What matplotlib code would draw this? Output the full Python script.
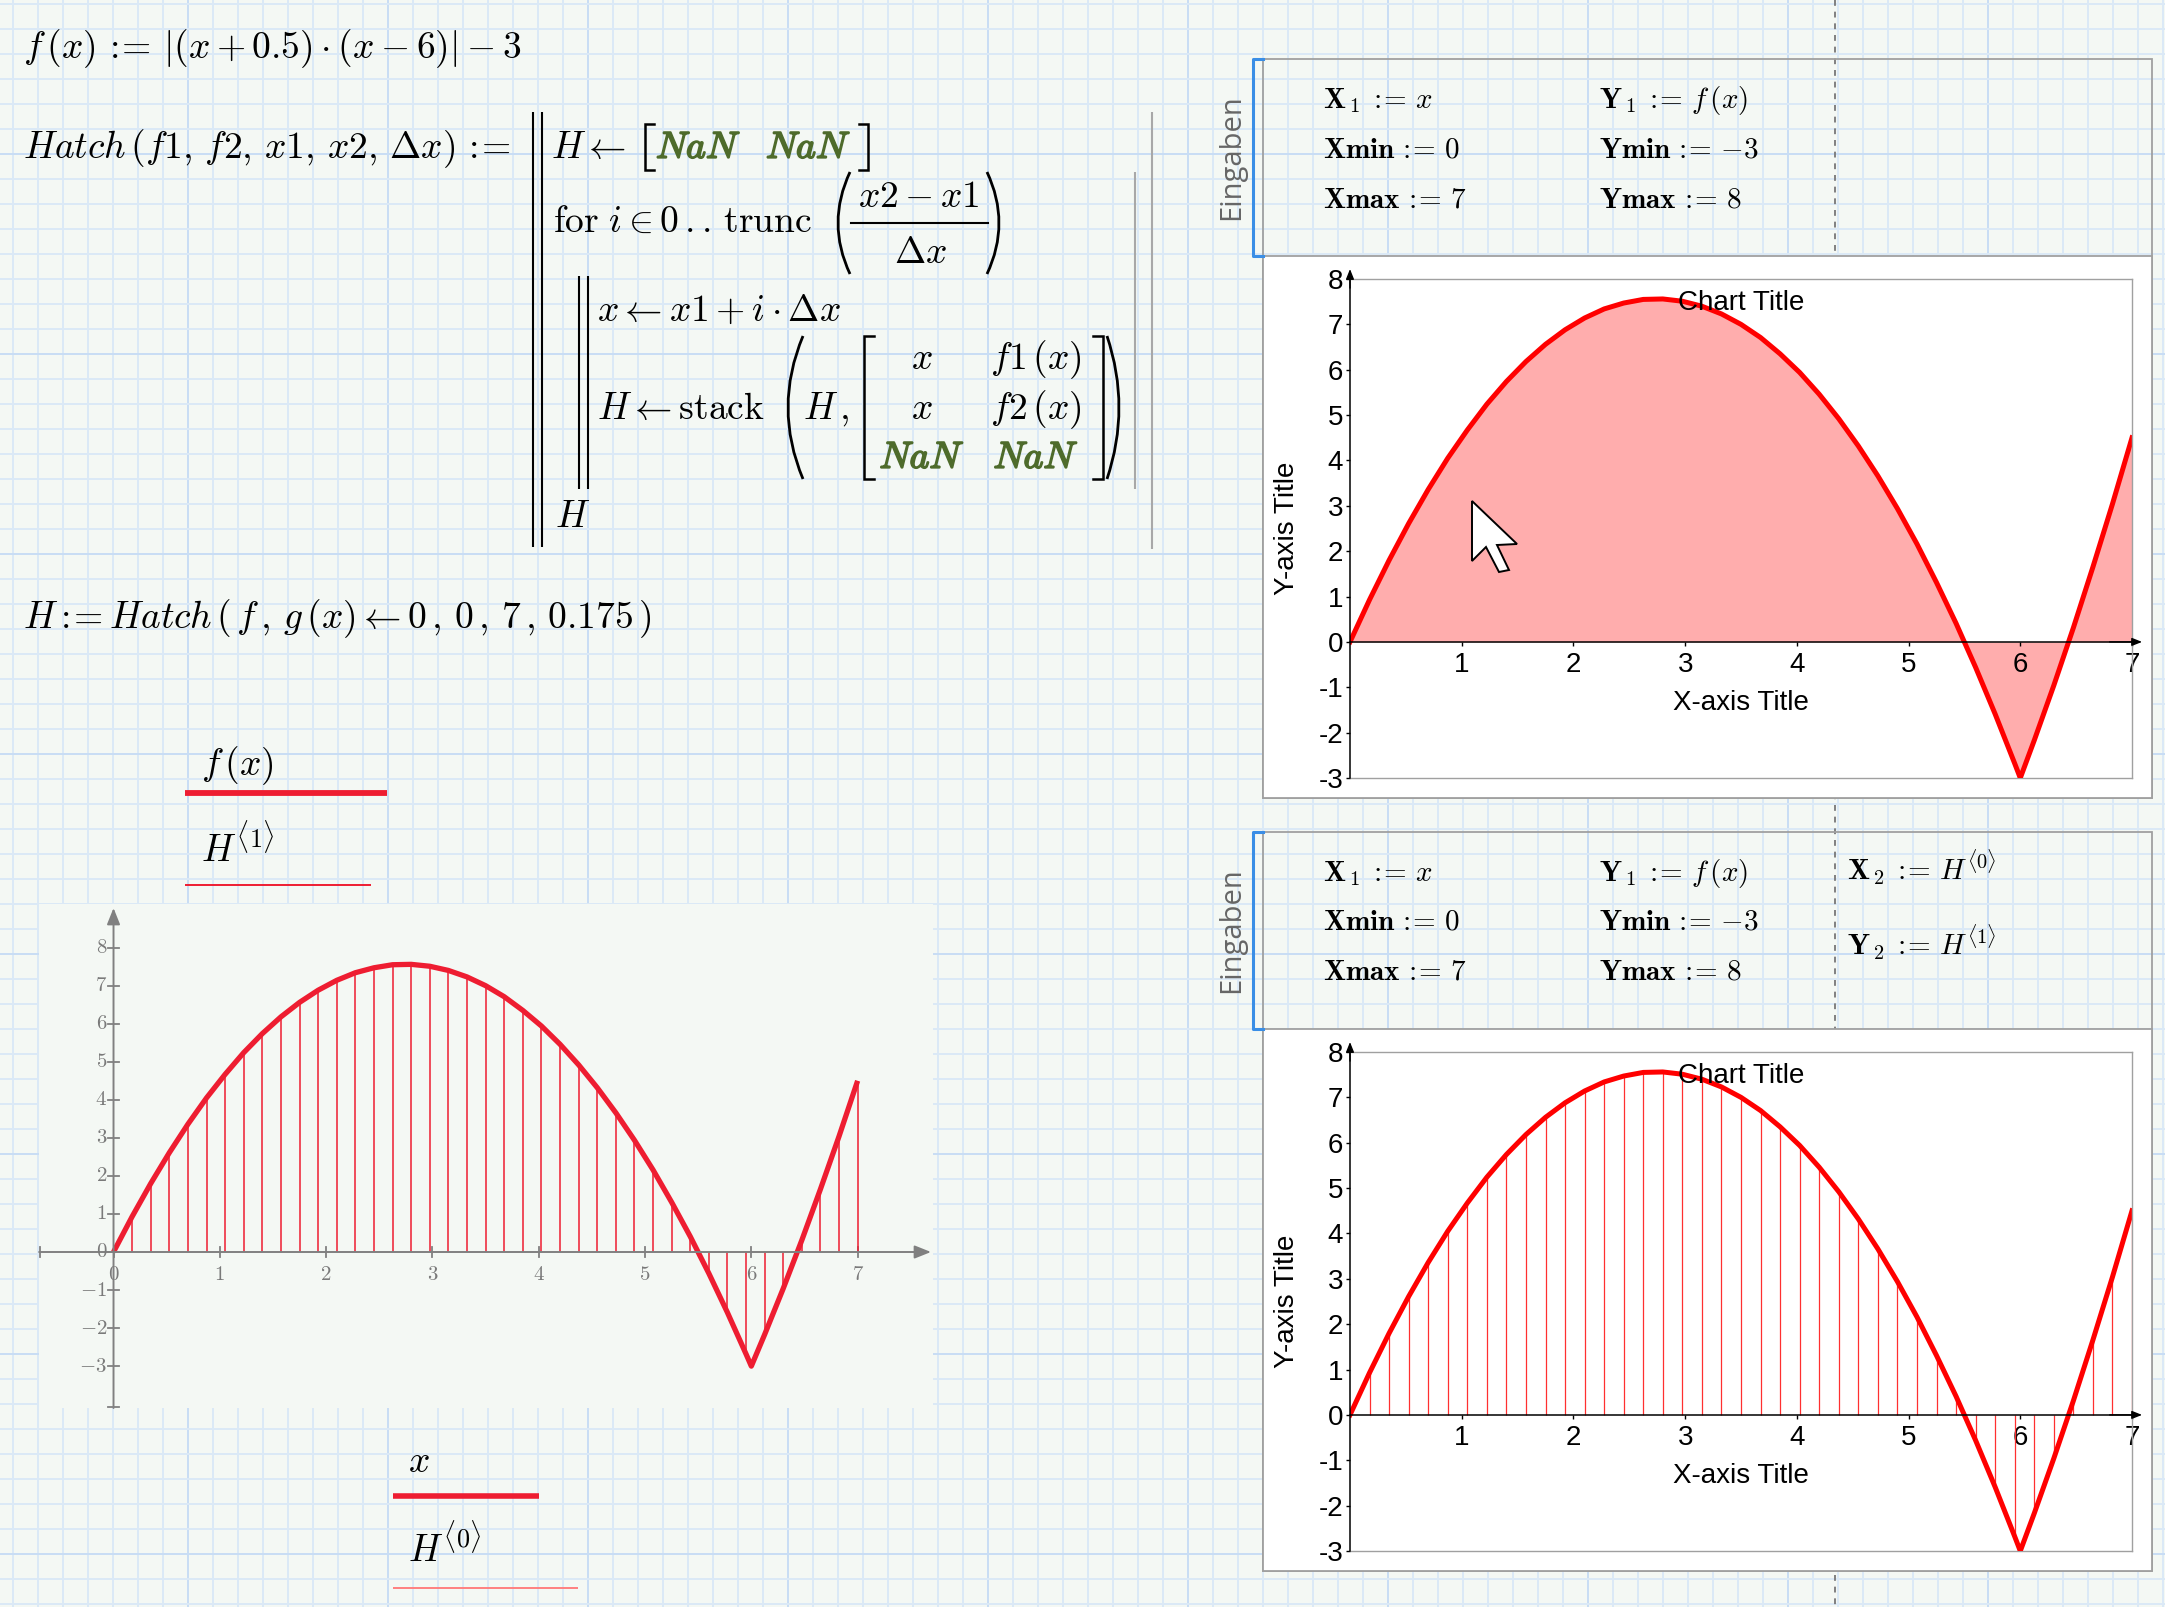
import numpy as np
import matplotlib.pyplot as plt
from matplotlib.path import Path
from matplotlib.patches import PathPatch, Rectangle, Polygon
from matplotlib import patheffects

plt.rcParams['mathtext.fontset'] = 'cm'
plt.rcParams['axes.unicode_minus'] = False
plt.rcParams['font.family'] = ['Liberation Sans', 'DejaVu Sans']

W, H = 2165, 1607

# H = Hatch(f, 0, 0, 7, 0.175): x = i*0.175 and f(x) = |(x+0.5)(x-6)| - 3
hatch_x = [0.0, 0.175, 0.35, 0.525, 0.7, 0.875, 1.05, 1.225, 1.4, 1.575,
           1.75, 1.925, 2.1, 2.275, 2.45, 2.625, 2.8, 2.975, 3.15, 3.325,
           3.5, 3.675, 3.85, 4.025, 4.2, 4.375, 4.55, 4.725, 4.9, 5.075,
           5.25, 5.425, 5.6, 5.775, 5.95, 6.125, 6.3, 6.475, 6.65, 6.825, 7.0]
hatch_y = [0.0, 0.93, 1.80, 2.61, 3.36, 4.05, 4.67, 5.24, 5.74, 6.18,
           6.56, 6.88, 7.14, 7.34, 7.47, 7.55, 7.56, 7.51, 7.40, 7.23,
           7.00, 6.71, 6.35, 5.94, 5.46, 4.92, 4.32, 3.66, 2.94, 2.16,
           1.31, 0.41, -0.56, -1.59, -2.68, -2.17, -0.96, 0.31, 1.65, 3.04, 4.50]
# f(x) curve: the same points plus the kink at x = 6
kink_x, kink_y = 6.0, -3.0
curve_x = hatch_x[:35] + [kink_x] + hatch_x[35:]
curve_y = hatch_y[:35] + [kink_y] + hatch_y[35:]

left_xticks = [0, 1, 2, 3, 4, 5, 6, 7]
left_yticks = [-3, -2, -1, 0, 1, 2, 3, 4, 5, 6, 7, 8]
chart_xticks = [1, 2, 3, 4, 5, 6, 7]
chart_yticks = [-3, -2, -1, 0, 1, 2, 3, 4, 5, 6, 7, 8]

BG = '#f4f8f4'
RED_L = '#ee1d31'
GREEN = '#4e6b2b'
DEF = r':\!\!='   # mathcad definition sign


def px_rect(x0, y0, x1, y1):
    return [x0 / W, 1 - y1 / H, (x1 - x0) / W, (y1 - y0) / H]


fig = plt.figure(figsize=(W / 100, H / 100), dpi=100)
fig.patch.set_facecolor(BG)
bg = fig.add_axes([0, 0, 1, 1])
bg.set_xlim(0, W)
bg.set_ylim(H, 0)
bg.axis('off')

# worksheet grid
for k, gx in enumerate(np.arange(13, W, 25)):
    bg.plot([gx, gx], [0, H], color='#c8ddf5' if k % 8 == 7 else '#dbe9f7', lw=1.4, zorder=0)
for k, gy in enumerate(np.arange(3.5, H, 25)):
    bg.plot([0, W], [gy, gy], color='#c8ddf5' if k % 8 == 6 else '#dbe9f7', lw=1.4, zorder=0)


def mt(x, y, s, size=27, color='black', ha='left', **kw):
    return bg.text(x, y, s, fontsize=size, color=color, ha=ha, va='baseline', zorder=5, **kw)


def vline(x, y0, y1, color='black', lw=1.5):
    bg.plot([x, x], [y0, y1], color=color, lw=lw, zorder=5, solid_capstyle='butt')


def paren(x_out, x_in, y0, y1, lw=2.0):
    cx = 2 * x_out - x_in
    p = Path([(x_in, y0), (cx, (y0 + y1) / 2), (x_in, y1)],
             [Path.MOVETO, Path.CURVE3, Path.CURVE3])
    bg.add_patch(PathPatch(p, fill=False, lw=lw, ec='black', zorder=5))


def bracket(x_v, x_end, y0, y1, lw=1.8):
    bg.plot([x_end, x_v, x_v, x_end], [y0, y0, y1, y1], color='black', lw=lw, zorder=5,
            solid_joinstyle='miter')


def nan_text(x, y, size=27, ha='left'):
    t = mt(x, y, r'$NaN$', size=size, color=GREEN, ha=ha)
    t.set_path_effects([patheffects.withStroke(linewidth=1.3, foreground=GREEN)])


# ---- equations ----
mt(23, 58, r'$f\,(x)\,' + DEF + r'\,|(x+0.5)\cdot(x-6)|-3$')
mt(23, 158, r'$Hatch\,(f1,\,f2,\,x1,\,x2,\,\Delta x)\,' + DEF + '$')

vline(533, 112, 547)
vline(542, 112, 547)
vline(579, 276, 489)
vline(588, 276, 489)
vline(1135, 172, 489, color='#a8a8a8')
vline(1152, 112, 549, color='#a8a8a8')

mt(551, 158, r'$H\leftarrow$')
bracket(645, 654, 124, 170)
nan_text(656, 158)
nan_text(766, 158)
bracket(868, 859, 124, 170)

mt(553, 232, r'$\mathrm{for}\ i\in0\,..\,\mathrm{trunc}$')
paren(838, 850, 172, 274)
mt(919, 207, r'$x2-x1$', ha='center')
bg.plot([851, 988], [223, 223], color='black', lw=1.5, zorder=5)
mt(920, 263, r'$\Delta x$', ha='center')
paren(999, 987, 172, 274)

mt(597, 321, r'$x\leftarrow x1+i\cdot\Delta x$')

mt(597, 419, r'$H\leftarrow\mathrm{stack}$')
paren(788, 803, 336, 479)
mt(803, 419, r'$H\,,$')
bracket(864, 874, 336, 479)
mt(922, 369, r'$x$', ha='center')
mt(1036, 369, r'$f1\,(x)$', ha='center')
mt(922, 419, r'$x$', ha='center')
mt(1036, 419, r'$f2\,(x)$', ha='center')
nan_text(922, 468, ha='center')
nan_text(1036, 468, ha='center')
bracket(1103, 1093, 336, 479)
paren(1119, 1107, 336, 479)

mt(555, 527, r'$H$')

mt(23, 628, r'$H' + DEF + r'Hatch\,(\,f\,,\,g\,(x)\leftarrow0\,,\,0\,,\,7\,,\,0.175\,)$')

# ---- left plot legend expressions ----
mt(201, 775, r'$f\,(x)$')
bg.plot([185, 387], [793, 793], color=RED_L, lw=4.2, zorder=5, solid_capstyle='butt')
mt(201, 862, r'$H^{\langle1\rangle}$')
bg.plot([185, 371], [885, 885], color=RED_L, lw=1.4, zorder=5, solid_capstyle='butt')
mt(408, 1472, r'$x$')
bg.plot([393, 539], [1496, 1496], color=RED_L, lw=4.0, zorder=5, solid_capstyle='butt')
mt(408, 1562, r'$H^{\langle0\rangle}$')
bg.plot([393, 578], [1588, 1588], color='#ff8080', lw=1.4, zorder=5, solid_capstyle='butt')

# plot area background
bg.add_patch(Rectangle((39, 904), 894, 504, fc=BG, ec='none', zorder=3))

# ---- right-hand regions ----
bg.plot([1835, 1835], [0, H], color='#808080', lw=1.4, ls=(0, (3, 3)), zorder=2)
for off in (0, 773):
    bg.add_patch(Rectangle((1263, 59 + off), 889, 739, fill=False, ec='#a0a0a0', lw=1.3, zorder=3))
    bg.add_patch(Rectangle((1263, 256 + off), 889, 542, fc='white', ec='#a0a0a0', lw=1.3, zorder=3))
    bg.plot([1263, 1253, 1253, 1263], [59 + off, 59 + off, 256 + off, 256 + off],
            color='#3a8ee6', lw=2.2, zorder=4)
    bg.text(1232, 157 + off, 'Eingaben', rotation=90, ha='center', va='center',
            fontsize=21, color='#666666', family='Open Sans', zorder=5)
    mt(1323, 108 + off, r'$\mathbf{X}_{\,1}\;' + DEF + r'\,x$', size=21)
    mt(1323, 157 + off, r'$\mathbf{Xmin}\,' + DEF + r'\,0$', size=21)
    mt(1323, 207 + off, r'$\mathbf{Xmax}\,' + DEF + r'\,7$', size=21)
    mt(1599, 108 + off, r'$\mathbf{Y}_{\,1}\;' + DEF + r'\,f\,(x)$', size=21)
    mt(1599, 157 + off, r'$\mathbf{Ymin}\,' + DEF + r'\,{-3}$', size=21)
    mt(1599, 207 + off, r'$\mathbf{Ymax}\,' + DEF + r'\,8$', size=21)
mt(1847, 880, r'$\mathbf{X}_{\,2}\;' + DEF + r'\,H^{\langle0\rangle}$', size=21)
mt(1847, 955, r'$\mathbf{Y}_{\,2}\;' + DEF + r'\,H^{\langle1\rangle}$', size=21)

# ---- left 2D plot ----
ax = fig.add_axes(px_rect(39, 904, 933, 1408))
ax.set_xlim(-0.701, 7.709)
ax.set_ylim(-4.10, 9.146)
ax.axis('off')
GR = '#808080'
arrow = dict(arrowstyle='-|>,head_length=0.45,head_width=0.18', color=GR, lw=1.4,
             mutation_scale=22, shrinkA=0, shrinkB=0)
ax.annotate('', xy=(7.69, 0), xytext=(-0.70, 0), arrowprops=arrow, annotation_clip=False)
ax.annotate('', xy=(0, 9.04), xytext=(0, -4.10), arrowprops=arrow, annotation_clip=False)
for xv in left_xticks:
    ax.plot([xv, xv], [-0.14, 0.14], color=GR, lw=1.3)
    ax.text(xv, -0.74, '$%d$' % xv, ha='center', va='baseline', fontsize=15, color='#7a7a7a')
ax.plot([-0.69, -0.69], [-0.14, 0.14], color=GR, lw=1.3)
for yv in left_yticks:
    ax.plot([-0.05, 0.05], [yv, yv], color=GR, lw=1.3)
    ax.text(-0.06, yv, '$%d$' % yv, ha='right', va='center', fontsize=15, color='#7a7a7a')
ax.plot([-0.05, 0.05], [-4.08, -4.08], color=GR, lw=1.3)
ax.vlines(hatch_x, 0, hatch_y, color=RED_L, lw=1.1)
ax.plot(curve_x, curve_y, color=RED_L, lw=3.8, solid_joinstyle='round', solid_capstyle='butt')


# ---- Mathcad chart components ----
def chart(top, hatched):
    c = fig.add_axes(px_rect(1350, top, 2132, top + 499))
    c.set_facecolor('none')
    c.set_xlim(0, 7)
    c.set_ylim(-3, 8)
    for s in ('top', 'right'):
        c.spines[s].set_color('#a0a0a0')
        c.spines[s].set_linewidth(1.0)
    c.spines['left'].set_color('black')
    c.spines['left'].set_linewidth(1.1)
    c.spines['bottom'].set_position(('data', 0))
    c.spines['bottom'].set_color('black')
    c.spines['bottom'].set_linewidth(1.1)
    c.axhline(-3, color='#a0a0a0', lw=1.0, clip_on=False)
    c.set_xticks(chart_xticks)
    c.set_xticklabels([str(v) for v in chart_xticks])
    c.set_yticks(chart_yticks)
    c.set_yticklabels([str(v) for v in chart_yticks])
    c.tick_params(axis='x', length=3, width=1, pad=4, labelsize=20)
    c.tick_params(axis='y', length=3, width=1, pad=2, labelsize=20)
    c.set_xlim(0, 7)
    ar = dict(arrowstyle='-|>,head_length=0.5,head_width=0.2', color='black', lw=1.0,
              mutation_scale=12, shrinkA=0, shrinkB=0)
    c.annotate('', xy=(7.09, 0), xytext=(6.8, 0), arrowprops=ar, annotation_clip=False)
    c.annotate('', xy=(0, 8.22), xytext=(0, 7.8), arrowprops=ar, annotation_clip=False)
    if hatched:
        c.vlines(hatch_x, 0, hatch_y, color='#ff3030', lw=0.9)
    else:
        c.fill_between(curve_x, curve_y, 0, color='#ffadad', lw=0)
    c.plot(curve_x, curve_y, color='#ff0000', lw=3.6, solid_joinstyle='round')
    c.text(0.5, 0.952, 'Chart Title', transform=c.transAxes, ha='center', va='center', fontsize=20)
    c.text(0.5, 0.150, 'X-axis Title', transform=c.transAxes, ha='center', va='center', fontsize=20)
    c.text(-0.081, 0.501, 'Y-axis Title', transform=c.transAxes, ha='center', va='center',
           rotation=90, fontsize=20)
    return c


chart(279, False)
chart(1052, True)

# mouse pointer over the upper chart
ov = fig.add_axes([0, 0, 1, 1])
ov.set_xlim(0, W)
ov.set_ylim(H, 0)
ov.axis('off')
ov.add_patch(Polygon([(1472, 501), (1472, 561), (1486, 547), (1499, 572), (1509, 570),
                      (1497, 545), (1517, 544)], closed=True, fc='white', ec='black', lw=1.4))

fig.savefig('out.png', dpi=100, facecolor=BG)
